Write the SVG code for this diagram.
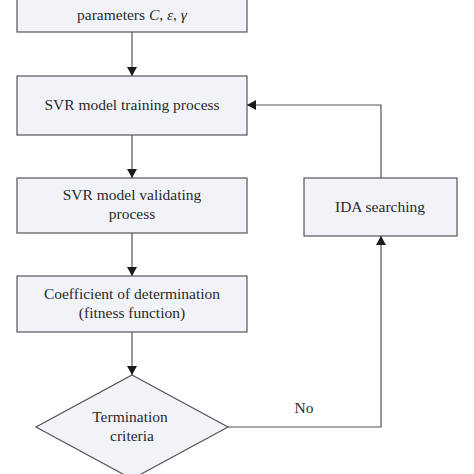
<svg xmlns="http://www.w3.org/2000/svg" width="474" height="474" viewBox="0 0 474 474">
<style>
.box{fill:#f1f3f9;stroke:#555;stroke-width:1.2}
.t{font-family:"Liberation Serif",serif;font-size:15.5px;fill:#2a2a2a;text-anchor:middle}
.c{fill:none;stroke:#555;stroke-width:1.2}
</style>
<defs>
<marker id="ah" markerWidth="10" markerHeight="10" refX="9" refY="5" orient="auto" markerUnits="userSpaceOnUse">
<path d="M0,0 L9,5 L0,10 z" fill="#1a1a1a"/>
</marker>
</defs>
<rect width="474" height="474" fill="#fff"/>
<g id="n-params">
<rect class="box" x="17" y="-20" width="230" height="52"/>
<text class="t" x="132" y="20">parameters <tspan font-style="italic">C</tspan>, <tspan font-style="italic">ε</tspan>, <tspan font-style="italic">γ</tspan></text>
</g>
<g id="n-train">
<rect class="box" x="17" y="76" width="230" height="59"/>
<text class="t" x="132" y="110">SVR model training process</text>
</g>
<g id="n-valid">
<rect class="box" x="17" y="178" width="230" height="55"/>
<text class="t" x="132" y="200">SVR model validating</text>
<text class="t" x="132" y="219">process</text>
</g>
<g id="n-coef">
<rect class="box" x="17" y="276" width="230" height="56"/>
<text class="t" x="132" y="299">Coefficient of determination</text>
<text class="t" x="132" y="318">(fitness function)</text>
</g>
<g id="n-term">
<polygon class="box" points="132,375 228,427 132,479 36,427"/>
<text class="t" x="130" y="422">Termination</text>
<text class="t" x="132" y="441">criteria</text>
</g>
<g id="n-ida">
<rect class="box" x="304" y="178" width="153" height="58"/>
<text class="t" x="380" y="212">IDA searching</text>
</g>
<g id="connectors">
<line class="c" x1="132" y1="32" x2="132" y2="76" marker-end="url(#ah)"/>
<line class="c" x1="132" y1="135" x2="132" y2="178" marker-end="url(#ah)"/>
<line class="c" x1="132" y1="233" x2="132" y2="276" marker-end="url(#ah)"/>
<line class="c" x1="132" y1="332" x2="132" y2="375" marker-end="url(#ah)"/>
<polyline class="c" points="228,427 381,427 381,236" marker-end="url(#ah)"/>
<polyline class="c" points="381,178 381,105 247,105" marker-end="url(#ah)"/>
<text class="t" x="304" y="413">No</text>
</g>
</svg>
